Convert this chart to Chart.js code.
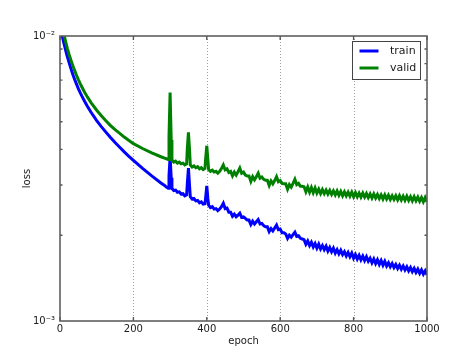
<!DOCTYPE html>
<html><head><meta charset="utf-8">
<script src="https://cdn.jsdelivr.net/npm/chart.js@4/dist/chart.umd.min.js"></script>
<style>html,body{margin:0;padding:0;background:#fff}</style>
</head><body>
<canvas id="c" width="474" height="357" style="display:block;width:474px;height:357px"></canvas>
<script>
const epochs = [0,5,7,10,12,15,17,20,25,30,35,40,45,50,55,60,67,75,85,100,112,125,137,150,162,175,187,200,225,250,275,285,290,
295,297,300,303,305,310,315,320,325,330,335,340,345,347,350,353,355,
360,365,370,375,380,385,390,395,397,400,403,
405,410,415,420,425,430,435,440,445,450,455,460,465,470,475,480,485,490,495,500,
505,510,515,520,525,530,535,540,545,550,555,560,565,570,575,580,585,590,595,600,
605,610,615,620,625,630,635,640,645,650,655,660,665,670,675,680,685,690,695,700,
705,710,715,720,725,730,735,740,745,750,755,760,765,770,775,780,785,790,795,800,
805,810,815,820,825,830,835,840,845,850,855,860,865,870,875,880,885,890,895,900,
905,910,915,920,925,930,935,940,945,950,955,960,965,970,975,980,985,990,995,1000];

const trainLoss = [1.14e-2,1.02e-2,9.89e-3,9.51e-3,9.28e-3,8.95e-3,8.75e-3,8.47e-3,8.05e-3,7.67e-3,7.33e-3,7.04e-3,6.78e-3,6.54e-3,6.33e-3,6.14e-3,5.90e-3,5.66e-3,5.39e-3,5.05e-3,4.82e-3,4.60e-3,4.41e-3,4.23e-3,4.08e-3,3.92e-3,3.79e-3,3.66e-3,3.43e-3,3.23e-3,3.05e-3,2.99e-3,2.95e-3,
2.92e-3,3.23e-3,3.76e-3,3.18e-3,2.92e-3,2.87e-3,2.88e-3,2.83e-3,2.84e-3,2.79e-3,2.80e-3,2.75e-3,2.77e-3,3.05e-3,3.44e-3,2.98e-3,2.73e-3,
2.68e-3,2.69e-3,2.64e-3,2.65e-3,2.60e-3,2.62e-3,2.57e-3,2.58e-3,2.72e-3,2.98e-3,2.68e-3,
2.55e-3,2.50e-3,2.52e-3,2.47e-3,2.48e-3,2.44e-3,2.47e-3,2.52e-3,2.59e-3,2.48e-3,2.49e-3,2.41e-3,2.41e-3,2.33e-3,2.37e-3,2.32e-3,2.35e-3,2.39e-3,2.31e-3,2.32e-3,
2.29e-3,2.26e-3,2.26e-3,2.18e-3,2.24e-3,2.19e-3,2.23e-3,2.27e-3,2.19e-3,2.20e-3,2.16e-3,2.14e-3,2.14e-3,2.06e-3,2.11e-3,2.07e-3,2.12e-3,2.17e-3,2.09e-3,2.10e-3,
2.04e-3,2.04e-3,2.02e-3,1.95e-3,2.00e-3,1.97e-3,2.01e-3,2.05e-3,1.98e-3,1.99e-3,1.95e-3,1.94e-3,1.93e-3,1.86e-3,1.91e-3,1.84e-3,1.89e-3,1.82e-3,1.87e-3,1.80e-3,
1.86e-3,1.79e-3,1.84e-3,1.78e-3,1.83e-3,1.76e-3,1.81e-3,1.75e-3,1.80e-3,1.73e-3,1.78e-3,1.72e-3,1.77e-3,1.71e-3,1.75e-3,1.69e-3,1.74e-3,1.68e-3,1.73e-3,1.66e-3,
1.71e-3,1.65e-3,1.70e-3,1.64e-3,1.69e-3,1.63e-3,1.68e-3,1.62e-3,1.66e-3,1.60e-3,1.65e-3,1.59e-3,1.64e-3,1.58e-3,1.63e-3,1.57e-3,1.62e-3,1.56e-3,1.60e-3,1.55e-3,
1.59e-3,1.54e-3,1.58e-3,1.53e-3,1.57e-3,1.52e-3,1.56e-3,1.51e-3,1.55e-3,1.50e-3,1.54e-3,1.49e-3,1.53e-3,1.48e-3,1.52e-3,1.47e-3,1.51e-3,1.46e-3,1.50e-3,1.45e-3];

const validLoss = [1.25e-2,1.11e-2,1.08e-2,1.02e-2,9.97e-3,9.59e-3,9.36e-3,9.05e-3,8.60e-3,8.21e-3,7.86e-3,7.56e-3,7.28e-3,7.03e-3,6.81e-3,6.61e-3,6.35e-3,6.10e-3,5.83e-3,5.49e-3,5.26e-3,5.04e-3,4.86e-3,4.69e-3,4.56e-3,4.42e-3,4.31e-3,4.19e-3,4.03e-3,3.89e-3,3.77e-3,3.73e-3,3.71e-3,
3.69e-3,4.42e-3,6.33e-3,4.32e-3,3.67e-3,3.61e-3,3.64e-3,3.58e-3,3.61e-3,3.56e-3,3.58e-3,3.53e-3,3.56e-3,4.05e-3,4.59e-3,3.98e-3,3.53e-3,
3.47e-3,3.50e-3,3.45e-3,3.48e-3,3.42e-3,3.45e-3,3.40e-3,3.43e-3,3.73e-3,4.12e-3,3.67e-3,
3.40e-3,3.35e-3,3.38e-3,3.33e-3,3.35e-3,3.30e-3,3.35e-3,3.43e-3,3.53e-3,3.39e-3,3.42e-3,3.32e-3,3.35e-3,3.23e-3,3.33e-3,3.25e-3,3.34e-3,3.44e-3,3.30e-3,3.33e-3,
3.25e-3,3.23e-3,3.23e-3,3.09e-3,3.21e-3,3.13e-3,3.21e-3,3.30e-3,3.17e-3,3.20e-3,3.14e-3,3.12e-3,3.12e-3,2.99e-3,3.10e-3,3.03e-3,3.11e-3,3.21e-3,3.08e-3,3.11e-3,
3.04e-3,3.03e-3,3.03e-3,2.90e-3,3.01e-3,2.95e-3,3.04e-3,3.14e-3,3.01e-3,3.04e-3,2.97e-3,2.97e-3,2.96e-3,2.84e-3,2.95e-3,2.83e-3,2.94e-3,2.82e-3,2.93e-3,2.81e-3,
2.90e-3,2.80e-3,2.89e-3,2.80e-3,2.88e-3,2.79e-3,2.87e-3,2.78e-3,2.86e-3,2.77e-3,2.86e-3,2.76e-3,2.85e-3,2.75e-3,2.84e-3,2.75e-3,2.83e-3,2.74e-3,2.83e-3,2.73e-3,
2.82e-3,2.73e-3,2.81e-3,2.72e-3,2.81e-3,2.72e-3,2.80e-3,2.71e-3,2.79e-3,2.70e-3,2.79e-3,2.70e-3,2.78e-3,2.69e-3,2.77e-3,2.68e-3,2.77e-3,2.68e-3,2.76e-3,2.67e-3,
2.75e-3,2.67e-3,2.75e-3,2.66e-3,2.75e-3,2.66e-3,2.74e-3,2.65e-3,2.74e-3,2.65e-3,2.73e-3,2.64e-3,2.73e-3,2.64e-3,2.72e-3,2.63e-3,2.71e-3,2.62e-3,2.71e-3,2.62e-3];

const seriesNames = ['train', 'valid'];
const seriesColors = ['#0000ff', '#008000'];
const xTicks = [0, 200, 400, 600, 800, 1000];
const yTicks = [1e-3, 1e-2];
const yTickLabels = ['10\u207B\u00B3', '10\u207B\u00B2'];
const yMinorTicks = [2e-3, 3e-3, 4e-3, 5e-3, 6e-3, 7e-3, 8e-3, 9e-3];

const FONT = 'DejaVu Sans';
const TXT = '#1a1a1a';

const framePlugin = {
  id: 'frame',
  beforeDatasetsDraw(chart) {
    const {ctx, chartArea: a, scales: {x}} = chart;
    ctx.save();
    ctx.strokeStyle = '#a0a0a0';
    ctx.lineWidth = 1;
    ctx.setLineDash([1, 2]);
    xTicks.forEach(v => {
      if (v <= x.min || v >= x.max) return;
      const px = Math.round(x.getPixelForValue(v)) + 0.5;
      ctx.beginPath(); ctx.moveTo(px, a.top); ctx.lineTo(px, a.bottom); ctx.stroke();
    });
    ctx.restore();
  },
  afterDatasetsDraw(chart) {
    const {ctx, chartArea: a, scales: {x, y}} = chart;
    ctx.save();
    ctx.strokeStyle = '#555';
    ctx.lineWidth = 1.4;
    xTicks.forEach(v => {
      const px = x.getPixelForValue(v);
      ctx.beginPath();
      ctx.moveTo(px, a.bottom); ctx.lineTo(px, a.bottom - 4);
      ctx.moveTo(px, a.top); ctx.lineTo(px, a.top + 4);
      ctx.stroke();
    });
    yMinorTicks.forEach(v => {
      const py = y.getPixelForValue(v);
      ctx.beginPath();
      ctx.moveTo(a.left, py); ctx.lineTo(a.left + 2.5, py);
      ctx.moveTo(a.right, py); ctx.lineTo(a.right - 2.5, py);
      ctx.stroke();
    });
    ctx.lineWidth = 1.6;
    ctx.strokeStyle = '#606060';
    ctx.strokeRect(a.left, a.top, a.right - a.left, a.bottom - a.top);
    const bx = a.right - 74.5, by = a.top + 5.5, bw = 68, bh = 38;
    ctx.fillStyle = '#fff';
    ctx.fillRect(bx, by, bw, bh);
    ctx.lineWidth = 1;
    ctx.strokeStyle = '#444';
    ctx.strokeRect(bx, by, bw, bh);
    ctx.font = '11px "' + FONT + '"';
    ctx.textBaseline = 'middle';
    ctx.textAlign = 'left';
    chart.data.datasets.forEach((ds, i) => {
      const ly = by + 9.5 + i * 17;
      ctx.strokeStyle = ds.borderColor;
      ctx.lineWidth = 3;
      ctx.beginPath(); ctx.moveTo(bx + 7, ly); ctx.lineTo(bx + 26, ly); ctx.stroke();
      ctx.fillStyle = TXT;
      ctx.fillText(ds.label, bx + 37.5, ly);
    });
    ctx.restore();
  }
};

new Chart(document.getElementById('c'), {
  type: 'line',
  data: {
    datasets: [
      { label: seriesNames[0], data: epochs.map((e, i) => ({x: e, y: trainLoss[i]})),
        borderColor: seriesColors[0], backgroundColor: seriesColors[0], borderWidth: 3,
        pointRadius: 0, tension: 0, fill: false, clip: 0, order: 2 },
      { label: seriesNames[1], data: epochs.map((e, i) => ({x: e, y: validLoss[i]})),
        borderColor: seriesColors[1], backgroundColor: seriesColors[1], borderWidth: 3,
        pointRadius: 0, tension: 0, fill: false, clip: 0, order: 1 }
    ]
  },
  options: {
    responsive: false,
    animation: false,
    devicePixelRatio: 1,
    layout: { padding: { left: 0, right: 47, top: 36, bottom: 0 } },
    plugins: { legend: { display: false }, tooltip: { enabled: false } },
    scales: {
      x: {
        type: 'linear', min: 0, max: 1000,
        afterBuildTicks: s => { s.ticks = xTicks.map(v => ({value: v})); },
        afterFit: s => { s.height = 36; },
        grid: { display: false, drawTicks: false },
        border: { display: false },
        ticks: { padding: 2, autoSkip: false, maxRotation: 0, color: TXT,
                 font: { family: FONT, size: 10 }, callback: v => String(v) },
        title: { display: true, text: 'epoch', color: TXT,
                 font: { family: FONT, size: 10 }, padding: { top: 0, bottom: 10 } }
      },
      y: {
        type: 'logarithmic', min: 1e-3, max: 1e-2,
        afterBuildTicks: s => { s.ticks = yTicks.map(v => ({value: v})); },
        afterFit: s => { s.width = 60; },
        grid: { display: false, drawTicks: false },
        border: { display: false },
        ticks: { padding: 5, autoSkip: false, color: TXT,
                 font: { family: FONT, size: 10 }, callback: (v, i) => yTickLabels[i] },
        title: { display: true, text: 'loss', color: TXT,
                 font: { family: FONT, size: 10 }, padding: { top: 21, bottom: 0 } }
      }
    }
  },
  plugins: [framePlugin]
});
</script>
</body></html>
